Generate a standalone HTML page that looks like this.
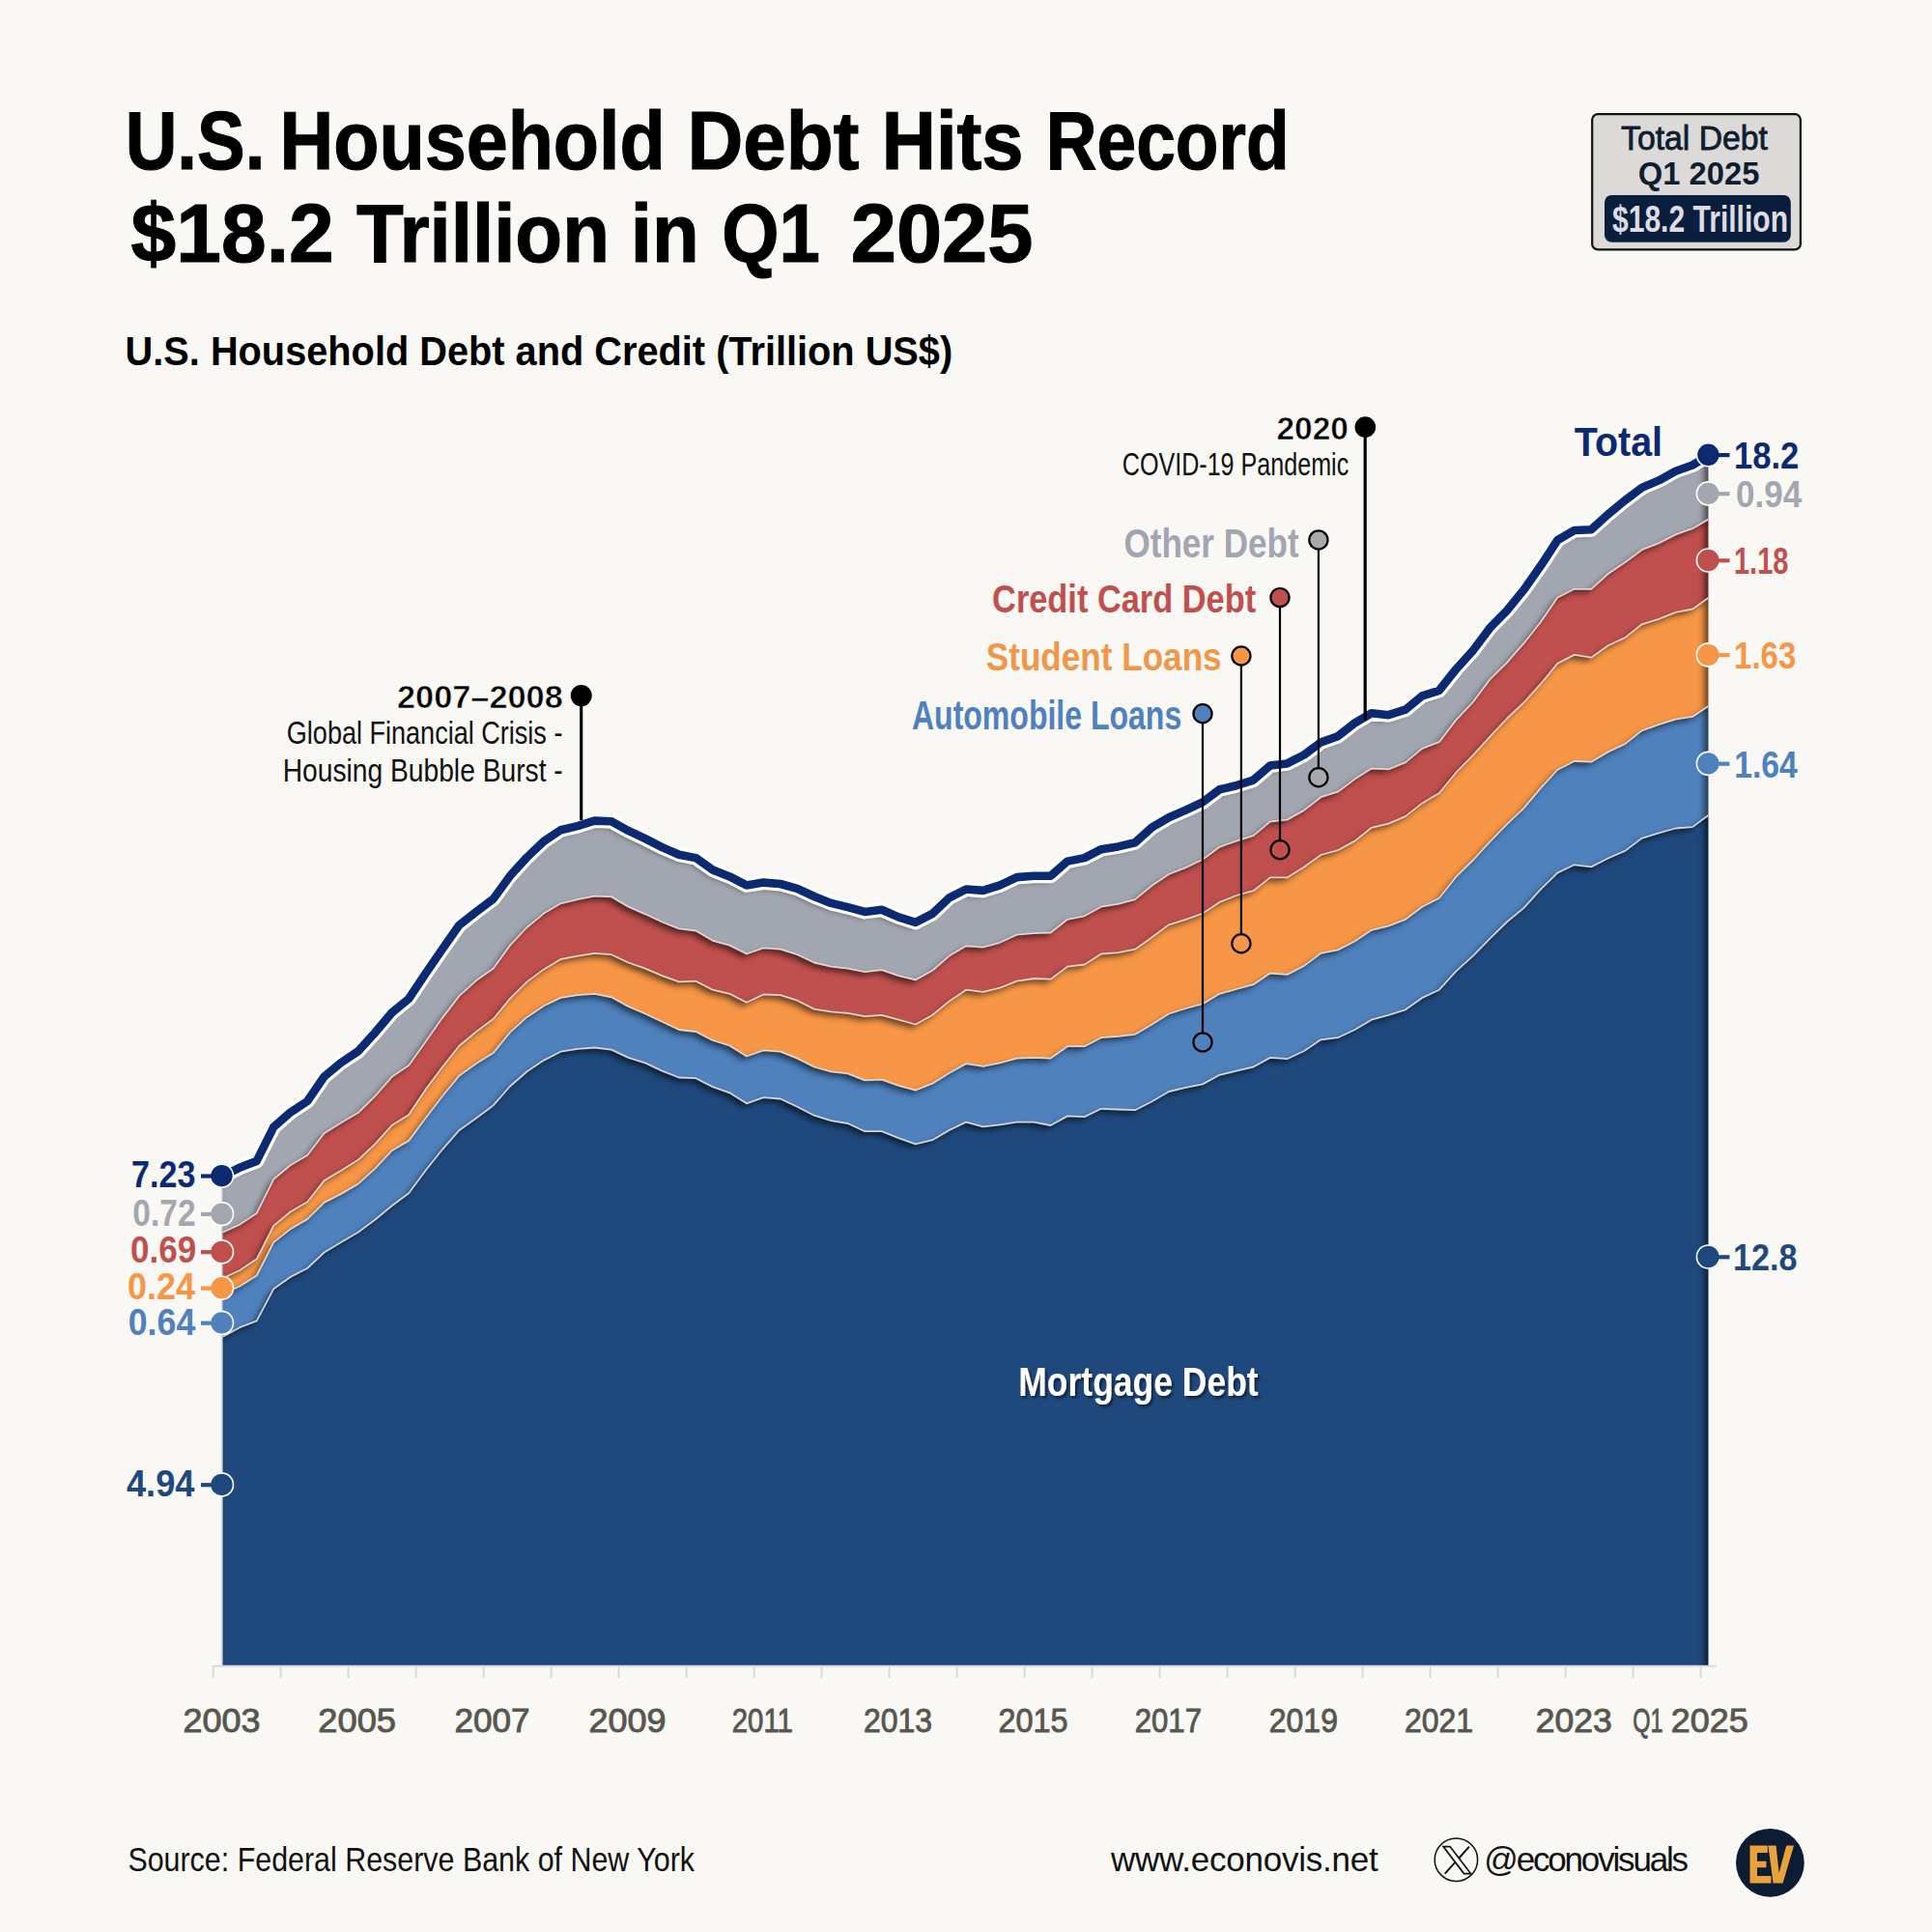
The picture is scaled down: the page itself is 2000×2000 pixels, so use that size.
<!DOCTYPE html><html><head><meta charset="utf-8"><title>U.S. Household Debt</title>
<style>html,body{margin:0;padding:0;background:#f9f8f4}svg{display:block}text{font-family:"Liberation Sans",sans-serif}</style></head><body>
<svg width="2000" height="2000" viewBox="0 0 2000 2000">
<defs><filter id="sh" filterUnits="userSpaceOnUse" x="150" y="380" width="1700" height="1420" color-interpolation-filters="sRGB"><feComponentTransfer in="SourceAlpha" result="inv"><feFuncA type="table" tableValues="1 0"/></feComponentTransfer><feOffset in="inv" dx="-4.5" dy="4.0" result="off"/><feGaussianBlur in="off" stdDeviation="3" result="blur"/><feComposite in="blur" in2="SourceAlpha" operator="in" result="shadow"/><feFlood flood-color="#000" flood-opacity="0.58" result="fl"/><feComposite in="fl" in2="shadow" operator="in" result="cs"/><feMerge><feMergeNode in="SourceGraphic"/><feMergeNode in="cs"/></feMerge></filter>
<filter id="tsh" x="-10%" y="-30%" width="120%" height="160%"><feDropShadow dx="2" dy="2.5" stdDeviation="1.5" flood-color="#000" flood-opacity="0.55"/></filter></defs>
<clipPath id="cl"><rect x="229.6" y="300" width="1700" height="1424.6"/></clipPath>
<rect width="2000" height="2000" fill="#f9f8f4"/>
<text x="129.64" y="175.2" font-size="84.36" font-weight="bold" fill="#000" textLength="144.72" lengthAdjust="spacingAndGlyphs" stroke="#000" stroke-width="1.1">U.S.</text>
<text x="289.47" y="175.2" font-size="84.36" font-weight="bold" fill="#000" textLength="399.24" lengthAdjust="spacingAndGlyphs" stroke="#000" stroke-width="1.1">Household</text>
<text x="711.43" y="175.2" font-size="84.36" font-weight="bold" fill="#000" textLength="177.98" lengthAdjust="spacingAndGlyphs" stroke="#000" stroke-width="1.1">Debt</text>
<text x="912.81" y="175.2" font-size="84.36" font-weight="bold" fill="#000" textLength="146.74" lengthAdjust="spacingAndGlyphs" stroke="#000" stroke-width="1.1">Hits</text>
<text x="1082.76" y="175.2" font-size="84.36" font-weight="bold" fill="#000" textLength="251.89" lengthAdjust="spacingAndGlyphs" stroke="#000" stroke-width="1.1">Record</text>
<text x="135.58" y="271.4" font-size="84.36" font-weight="bold" fill="#000" textLength="210.08" lengthAdjust="spacingAndGlyphs" stroke="#000" stroke-width="1.1">$18.2</text>
<text x="369.10" y="271.4" font-size="84.36" font-weight="bold" fill="#000" textLength="261.88" lengthAdjust="spacingAndGlyphs" stroke="#000" stroke-width="1.1">Trillion</text>
<text x="652.73" y="271.4" font-size="84.36" font-weight="bold" fill="#000" textLength="70.96" lengthAdjust="spacingAndGlyphs" stroke="#000" stroke-width="1.1">in</text>
<text x="747.14" y="271.4" font-size="84.36" font-weight="bold" fill="#000" textLength="101.67" lengthAdjust="spacingAndGlyphs" stroke="#000" stroke-width="1.1">Q1</text>
<text x="880.76" y="271.4" font-size="84.36" font-weight="bold" fill="#000" textLength="188.68" lengthAdjust="spacingAndGlyphs" stroke="#000" stroke-width="1.1">2025</text>
<text x="129.59" y="377.8" font-size="43.02" font-weight="bold" fill="#000" textLength="856.62" lengthAdjust="spacingAndGlyphs" >U.S. Household Debt and Credit (Trillion US$)</text>
<rect x="1648.2" y="118.1" width="215.7" height="140.3" rx="6" fill="#dcdad9" stroke="#111" stroke-width="2.2"/>
<text x="1678.00" y="154.8" font-size="34.92" font-weight="normal" fill="#0f1e2e" textLength="152.00" lengthAdjust="spacingAndGlyphs" stroke="#0f1e2e" stroke-width="0.8">Total Debt</text>
<text x="1695.79" y="190.6" font-size="32.96" font-weight="bold" fill="#0f1e2e" textLength="125.63" lengthAdjust="spacingAndGlyphs" >Q1 2025</text>
<rect x="1661" y="201.9" width="192.8" height="48.8" rx="7.5" fill="#0b1d3d"/>
<text x="1668.98" y="239.9" font-size="38.41" font-weight="bold" fill="#dcdde3" textLength="182.05" lengthAdjust="spacingAndGlyphs" >$18.2 Trillion</text>
<g stroke="#d9dbd9" stroke-width="1.9" fill="none">
<path d="M220.6,1737 V1724.7 H1777"/>
<path d="M290.6,1724.7 V1737"/>
<path d="M360.6,1724.7 V1737"/>
<path d="M430.6,1724.7 V1737"/>
<path d="M500.6,1724.7 V1737"/>
<path d="M570.6,1724.7 V1737"/>
<path d="M640.6,1724.7 V1737"/>
<path d="M710.6,1724.7 V1737"/>
<path d="M780.6,1724.7 V1737"/>
<path d="M850.6,1724.7 V1737"/>
<path d="M920.6,1724.7 V1737"/>
<path d="M990.6,1724.7 V1737"/>
<path d="M1060.6,1724.7 V1737"/>
<path d="M1130.6,1724.7 V1737"/>
<path d="M1200.6,1724.7 V1737"/>
<path d="M1270.6,1724.7 V1737"/>
<path d="M1340.6,1724.7 V1737"/>
<path d="M1410.6,1724.7 V1737"/>
<path d="M1480.6,1724.7 V1737"/>
<path d="M1550.6,1724.7 V1737"/>
<path d="M1620.6,1724.7 V1737"/>
<path d="M1690.6,1724.7 V1737"/>
<path d="M1760.6,1724.7 V1737"/>
</g>
<path d="M230.2,1217.5 V1723.7" stroke="#c9cdd2" stroke-width="2"/>
<g clip-path="url(#cl)">
<g filter="url(#sh)"><path d="M230.7,1383.8 L248.2,1374.2 L265.7,1367.3 L283.2,1334.3 L300.6,1321.9 L318.1,1313.0 L335.6,1296.5 L353.1,1286.1 L370.6,1275.8 L388.1,1262.7 L405.6,1248.3 L423.1,1235.2 L440.5,1211.8 L458.0,1189.8 L475.5,1169.9 L493.0,1157.5 L510.5,1144.4 L528.0,1124.5 L545.5,1109.3 L563.0,1097.6 L580.4,1088.7 L597.9,1085.9 L615.4,1084.5 L632.9,1086.6 L650.4,1094.9 L667.9,1100.4 L685.4,1108.6 L702.9,1115.5 L720.3,1116.2 L737.8,1125.1 L755.3,1131.3 L772.8,1142.3 L790.3,1136.1 L807.8,1137.5 L825.3,1145.8 L842.8,1154.7 L860.2,1160.2 L877.7,1163.0 L895.2,1171.2 L912.7,1171.2 L930.2,1178.1 L947.7,1184.3 L965.2,1180.2 L982.7,1169.9 L1000.1,1161.6 L1017.6,1166.4 L1035.1,1164.4 L1052.6,1161.6 L1070.1,1161.6 L1087.6,1165.0 L1105.1,1155.4 L1122.6,1156.1 L1140.0,1147.8 L1157.5,1148.5 L1175.0,1149.2 L1192.5,1140.3 L1210.0,1130.0 L1227.5,1125.8 L1245.0,1122.4 L1262.5,1112.8 L1279.9,1108.6 L1297.4,1104.5 L1314.9,1094.9 L1332.4,1096.2 L1349.9,1088.0 L1367.4,1076.3 L1384.9,1074.2 L1402.4,1066.0 L1419.8,1055.7 L1437.3,1050.8 L1454.8,1045.3 L1472.3,1032.9 L1489.8,1024.7 L1507.3,1005.4 L1524.8,989.6 L1542.3,971.7 L1559.8,954.5 L1577.2,940.1 L1594.7,920.8 L1612.2,903.6 L1629.7,895.3 L1647.2,897.4 L1664.7,888.5 L1682.2,880.9 L1699.6,867.8 L1717.1,862.3 L1734.6,857.5 L1752.1,856.1 L1768.4,844.0 L1768.4,1723.7 L230.7,1723.7Z" fill="#1f497d"/></g>
<g filter="url(#sh)"><path d="M230.7,1339.8 L248.2,1331.5 L265.7,1320.5 L283.2,1286.1 L300.6,1272.4 L318.1,1262.1 L335.6,1244.9 L353.1,1235.9 L370.6,1225.6 L388.1,1209.8 L405.6,1191.2 L423.1,1180.9 L440.5,1157.5 L458.0,1134.8 L475.5,1113.4 L493.0,1101.1 L510.5,1090.1 L528.0,1068.7 L545.5,1052.9 L563.0,1041.2 L580.4,1032.9 L597.9,1030.2 L615.4,1028.8 L632.9,1032.3 L650.4,1041.9 L667.9,1049.5 L685.4,1057.7 L702.9,1066.0 L720.3,1068.0 L737.8,1077.0 L755.3,1082.5 L772.8,1093.5 L790.3,1087.3 L807.8,1088.7 L825.3,1095.6 L842.8,1104.5 L860.2,1109.3 L877.7,1111.4 L895.2,1118.3 L912.7,1117.6 L930.2,1123.8 L947.7,1128.6 L965.2,1121.7 L982.7,1110.7 L1000.1,1101.1 L1017.6,1103.8 L1035.1,1100.4 L1052.6,1095.6 L1070.1,1094.9 L1087.6,1095.6 L1105.1,1083.2 L1122.6,1083.2 L1140.0,1074.2 L1157.5,1072.9 L1175.0,1070.8 L1192.5,1060.5 L1210.0,1049.5 L1227.5,1044.0 L1245.0,1039.1 L1262.5,1028.8 L1279.9,1024.0 L1297.4,1019.2 L1314.9,1007.5 L1332.4,1008.9 L1349.9,999.9 L1367.4,986.9 L1384.9,983.4 L1402.4,974.5 L1419.8,962.8 L1437.3,958.6 L1454.8,951.8 L1472.3,938.7 L1489.8,929.7 L1507.3,907.7 L1524.8,890.5 L1542.3,871.3 L1559.8,853.4 L1577.2,836.9 L1594.7,816.2 L1612.2,797.0 L1629.7,788.0 L1647.2,788.7 L1664.7,778.4 L1682.2,770.1 L1699.6,756.4 L1717.1,750.2 L1734.6,744.7 L1752.1,741.9 L1768.4,731.0 L1768.4,844.0 L1752.1,856.1 L1734.6,857.5 L1717.1,862.3 L1699.6,867.8 L1682.2,880.9 L1664.7,888.5 L1647.2,897.4 L1629.7,895.3 L1612.2,903.6 L1594.7,920.8 L1577.2,940.1 L1559.8,954.5 L1542.3,971.7 L1524.8,989.6 L1507.3,1005.4 L1489.8,1024.7 L1472.3,1032.9 L1454.8,1045.3 L1437.3,1050.8 L1419.8,1055.7 L1402.4,1066.0 L1384.9,1074.2 L1367.4,1076.3 L1349.9,1088.0 L1332.4,1096.2 L1314.9,1094.9 L1297.4,1104.5 L1279.9,1108.6 L1262.5,1112.8 L1245.0,1122.4 L1227.5,1125.8 L1210.0,1130.0 L1192.5,1140.3 L1175.0,1149.2 L1157.5,1148.5 L1140.0,1147.8 L1122.6,1156.1 L1105.1,1155.4 L1087.6,1165.0 L1070.1,1161.6 L1052.6,1161.6 L1035.1,1164.4 L1017.6,1166.4 L1000.1,1161.6 L982.7,1169.9 L965.2,1180.2 L947.7,1184.3 L930.2,1178.1 L912.7,1171.2 L895.2,1171.2 L877.7,1163.0 L860.2,1160.2 L842.8,1154.7 L825.3,1145.8 L807.8,1137.5 L790.3,1136.1 L772.8,1142.3 L755.3,1131.3 L737.8,1125.1 L720.3,1116.2 L702.9,1115.5 L685.4,1108.6 L667.9,1100.4 L650.4,1094.9 L632.9,1086.6 L615.4,1084.5 L597.9,1085.9 L580.4,1088.7 L563.0,1097.6 L545.5,1109.3 L528.0,1124.5 L510.5,1144.4 L493.0,1157.5 L475.5,1169.9 L458.0,1189.8 L440.5,1211.8 L423.1,1235.2 L405.6,1248.3 L388.1,1262.7 L370.6,1275.8 L353.1,1286.1 L335.6,1296.5 L318.1,1313.0 L300.6,1321.9 L283.2,1334.3 L265.7,1367.3 L248.2,1374.2 L230.7,1383.8Z" fill="#4f81bd"/></g>
<g filter="url(#sh)"><path d="M230.7,1323.3 L248.2,1315.0 L265.7,1303.3 L283.2,1268.9 L300.6,1254.5 L318.1,1244.2 L335.6,1222.1 L353.1,1211.8 L370.6,1200.8 L388.1,1184.3 L405.6,1165.0 L423.1,1154.0 L440.5,1127.9 L458.0,1104.5 L475.5,1082.5 L493.0,1068.0 L510.5,1055.0 L528.0,1033.6 L545.5,1016.4 L563.0,1003.4 L580.4,993.0 L597.9,989.6 L615.4,986.9 L632.9,988.2 L650.4,996.5 L667.9,1002.7 L685.4,1010.2 L702.9,1016.4 L720.3,1015.7 L737.8,1024.7 L755.3,1028.8 L772.8,1037.8 L790.3,1029.5 L807.8,1030.2 L825.3,1035.7 L842.8,1044.6 L860.2,1047.4 L877.7,1048.8 L895.2,1052.2 L912.7,1050.8 L930.2,1055.7 L947.7,1060.5 L965.2,1050.8 L982.7,1036.4 L1000.1,1024.7 L1017.6,1026.8 L1035.1,1022.6 L1052.6,1015.7 L1070.1,1013.0 L1087.6,1013.7 L1105.1,1000.6 L1122.6,998.5 L1140.0,987.5 L1157.5,986.2 L1175.0,982.7 L1192.5,970.3 L1210.0,957.3 L1227.5,951.8 L1245.0,945.6 L1262.5,933.9 L1279.9,927.0 L1297.4,922.2 L1314.9,908.4 L1332.4,908.4 L1349.9,897.4 L1367.4,885.0 L1384.9,880.2 L1402.4,870.6 L1419.8,856.8 L1437.3,852.7 L1454.8,845.1 L1472.3,831.4 L1489.8,821.0 L1507.3,799.7 L1524.8,781.8 L1542.3,762.6 L1559.8,744.0 L1577.2,727.5 L1594.7,708.2 L1612.2,686.9 L1629.7,677.9 L1647.2,680.7 L1664.7,668.3 L1682.2,660.1 L1699.6,646.3 L1717.1,640.8 L1734.6,633.9 L1752.1,630.5 L1768.4,618.9 L1768.4,731.0 L1752.1,741.9 L1734.6,744.7 L1717.1,750.2 L1699.6,756.4 L1682.2,770.1 L1664.7,778.4 L1647.2,788.7 L1629.7,788.0 L1612.2,797.0 L1594.7,816.2 L1577.2,836.9 L1559.8,853.4 L1542.3,871.3 L1524.8,890.5 L1507.3,907.7 L1489.8,929.7 L1472.3,938.7 L1454.8,951.8 L1437.3,958.6 L1419.8,962.8 L1402.4,974.5 L1384.9,983.4 L1367.4,986.9 L1349.9,999.9 L1332.4,1008.9 L1314.9,1007.5 L1297.4,1019.2 L1279.9,1024.0 L1262.5,1028.8 L1245.0,1039.1 L1227.5,1044.0 L1210.0,1049.5 L1192.5,1060.5 L1175.0,1070.8 L1157.5,1072.9 L1140.0,1074.2 L1122.6,1083.2 L1105.1,1083.2 L1087.6,1095.6 L1070.1,1094.9 L1052.6,1095.6 L1035.1,1100.4 L1017.6,1103.8 L1000.1,1101.1 L982.7,1110.7 L965.2,1121.7 L947.7,1128.6 L930.2,1123.8 L912.7,1117.6 L895.2,1118.3 L877.7,1111.4 L860.2,1109.3 L842.8,1104.5 L825.3,1095.6 L807.8,1088.7 L790.3,1087.3 L772.8,1093.5 L755.3,1082.5 L737.8,1077.0 L720.3,1068.0 L702.9,1066.0 L685.4,1057.7 L667.9,1049.5 L650.4,1041.9 L632.9,1032.3 L615.4,1028.8 L597.9,1030.2 L580.4,1032.9 L563.0,1041.2 L545.5,1052.9 L528.0,1068.7 L510.5,1090.1 L493.0,1101.1 L475.5,1113.4 L458.0,1134.8 L440.5,1157.5 L423.1,1180.9 L405.6,1191.2 L388.1,1209.8 L370.6,1225.6 L353.1,1235.9 L335.6,1244.9 L318.1,1262.1 L300.6,1272.4 L283.2,1286.1 L265.7,1320.5 L248.2,1331.5 L230.7,1339.8Z" fill="#f79646"/></g>
<g filter="url(#sh)"><path d="M230.7,1275.8 L248.2,1267.6 L265.7,1255.9 L283.2,1220.8 L300.6,1206.3 L318.1,1196.0 L335.6,1173.3 L353.1,1162.3 L370.6,1152.0 L388.1,1134.8 L405.6,1114.8 L423.1,1103.1 L440.5,1078.4 L458.0,1053.6 L475.5,1030.9 L493.0,1015.1 L510.5,1002.7 L528.0,978.6 L545.5,960.0 L563.0,945.6 L580.4,935.3 L597.9,931.1 L615.4,927.7 L632.9,928.4 L650.4,938.7 L667.9,946.3 L685.4,954.5 L702.9,961.4 L720.3,963.5 L737.8,973.8 L755.3,978.6 L772.8,987.5 L790.3,981.3 L807.8,982.7 L825.3,988.2 L842.8,996.5 L860.2,1000.6 L877.7,1002.7 L895.2,1006.1 L912.7,1004.1 L930.2,1010.2 L947.7,1014.4 L965.2,1004.7 L982.7,989.6 L1000.1,979.3 L1017.6,980.7 L1035.1,975.8 L1052.6,967.6 L1070.1,966.2 L1087.6,965.5 L1105.1,951.8 L1122.6,948.3 L1140.0,938.7 L1157.5,935.9 L1175.0,931.1 L1192.5,916.7 L1210.0,905.0 L1227.5,898.1 L1245.0,889.8 L1262.5,876.8 L1279.9,870.6 L1297.4,865.1 L1314.9,850.6 L1332.4,848.6 L1349.9,838.9 L1367.4,825.2 L1384.9,819.7 L1402.4,806.6 L1419.8,795.6 L1437.3,796.3 L1454.8,789.4 L1472.3,774.9 L1489.8,768.1 L1507.3,745.4 L1524.8,726.8 L1542.3,703.4 L1559.8,686.2 L1577.2,666.2 L1594.7,644.2 L1612.2,618.8 L1629.7,609.8 L1647.2,609.8 L1664.7,594.0 L1682.2,582.3 L1699.6,569.2 L1717.1,562.4 L1734.6,553.4 L1752.1,547.2 L1768.4,537.6 L1768.4,618.9 L1752.1,630.5 L1734.6,633.9 L1717.1,640.8 L1699.6,646.3 L1682.2,660.1 L1664.7,668.3 L1647.2,680.7 L1629.7,677.9 L1612.2,686.9 L1594.7,708.2 L1577.2,727.5 L1559.8,744.0 L1542.3,762.6 L1524.8,781.8 L1507.3,799.7 L1489.8,821.0 L1472.3,831.4 L1454.8,845.1 L1437.3,852.7 L1419.8,856.8 L1402.4,870.6 L1384.9,880.2 L1367.4,885.0 L1349.9,897.4 L1332.4,908.4 L1314.9,908.4 L1297.4,922.2 L1279.9,927.0 L1262.5,933.9 L1245.0,945.6 L1227.5,951.8 L1210.0,957.3 L1192.5,970.3 L1175.0,982.7 L1157.5,986.2 L1140.0,987.5 L1122.6,998.5 L1105.1,1000.6 L1087.6,1013.7 L1070.1,1013.0 L1052.6,1015.7 L1035.1,1022.6 L1017.6,1026.8 L1000.1,1024.7 L982.7,1036.4 L965.2,1050.8 L947.7,1060.5 L930.2,1055.7 L912.7,1050.8 L895.2,1052.2 L877.7,1048.8 L860.2,1047.4 L842.8,1044.6 L825.3,1035.7 L807.8,1030.2 L790.3,1029.5 L772.8,1037.8 L755.3,1028.8 L737.8,1024.7 L720.3,1015.7 L702.9,1016.4 L685.4,1010.2 L667.9,1002.7 L650.4,996.5 L632.9,988.2 L615.4,986.9 L597.9,989.6 L580.4,993.0 L563.0,1003.4 L545.5,1016.4 L528.0,1033.6 L510.5,1055.0 L493.0,1068.0 L475.5,1082.5 L458.0,1104.5 L440.5,1127.9 L423.1,1154.0 L405.6,1165.0 L388.1,1184.3 L370.6,1200.8 L353.1,1211.8 L335.6,1222.1 L318.1,1244.2 L300.6,1254.5 L283.2,1268.9 L265.7,1303.3 L248.2,1315.0 L230.7,1323.3Z" fill="#c0504d"/></g>
<g filter="url(#sh)"><path d="M230.7,1217.5 L248.2,1209.5 L265.7,1203.6 L283.2,1168.5 L300.6,1153.3 L318.1,1141.7 L335.6,1116.2 L353.1,1101.7 L370.6,1090.1 L388.1,1070.8 L405.6,1050.1 L423.1,1035.7 L440.5,1009.6 L458.0,984.1 L475.5,959.3 L493.0,945.6 L510.5,932.5 L528.0,908.4 L545.5,889.2 L563.0,872.6 L580.4,860.9 L597.9,856.8 L615.4,851.3 L632.9,852.0 L650.4,861.6 L667.9,869.9 L685.4,878.8 L702.9,886.4 L720.3,889.8 L737.8,902.2 L755.3,909.1 L772.8,918.1 L790.3,915.3 L807.8,916.7 L825.3,921.5 L842.8,929.7 L860.2,936.6 L877.7,940.8 L895.2,945.6 L912.7,943.5 L930.2,951.1 L947.7,956.6 L965.2,947.6 L982.7,931.1 L1000.1,922.2 L1017.6,923.6 L1035.1,918.1 L1052.6,909.8 L1070.1,908.4 L1087.6,908.4 L1105.1,893.3 L1122.6,889.8 L1140.0,880.9 L1157.5,878.1 L1175.0,874.0 L1192.5,858.2 L1210.0,847.9 L1227.5,840.3 L1245.0,832.1 L1262.5,819.0 L1279.9,814.9 L1297.4,809.3 L1314.9,794.2 L1332.4,792.1 L1349.9,783.2 L1367.4,770.1 L1384.9,763.9 L1402.4,750.2 L1419.8,739.9 L1437.3,741.9 L1454.8,736.4 L1472.3,722.0 L1489.8,716.5 L1507.3,694.5 L1524.8,675.2 L1542.3,651.8 L1559.8,633.9 L1577.2,612.6 L1594.7,587.8 L1612.2,561.0 L1629.7,550.7 L1647.2,550.0 L1664.7,534.1 L1682.2,519.7 L1699.6,506.6 L1717.1,499.1 L1734.6,489.4 L1752.1,482.5 L1768.4,472.3 L1768.4,537.6 L1752.1,547.2 L1734.6,553.4 L1717.1,562.4 L1699.6,569.2 L1682.2,582.3 L1664.7,594.0 L1647.2,609.8 L1629.7,609.8 L1612.2,618.8 L1594.7,644.2 L1577.2,666.2 L1559.8,686.2 L1542.3,703.4 L1524.8,726.8 L1507.3,745.4 L1489.8,768.1 L1472.3,774.9 L1454.8,789.4 L1437.3,796.3 L1419.8,795.6 L1402.4,806.6 L1384.9,819.7 L1367.4,825.2 L1349.9,838.9 L1332.4,848.6 L1314.9,850.6 L1297.4,865.1 L1279.9,870.6 L1262.5,876.8 L1245.0,889.8 L1227.5,898.1 L1210.0,905.0 L1192.5,916.7 L1175.0,931.1 L1157.5,935.9 L1140.0,938.7 L1122.6,948.3 L1105.1,951.8 L1087.6,965.5 L1070.1,966.2 L1052.6,967.6 L1035.1,975.8 L1017.6,980.7 L1000.1,979.3 L982.7,989.6 L965.2,1004.7 L947.7,1014.4 L930.2,1010.2 L912.7,1004.1 L895.2,1006.1 L877.7,1002.7 L860.2,1000.6 L842.8,996.5 L825.3,988.2 L807.8,982.7 L790.3,981.3 L772.8,987.5 L755.3,978.6 L737.8,973.8 L720.3,963.5 L702.9,961.4 L685.4,954.5 L667.9,946.3 L650.4,938.7 L632.9,928.4 L615.4,927.7 L597.9,931.1 L580.4,935.3 L563.0,945.6 L545.5,960.0 L528.0,978.6 L510.5,1002.7 L493.0,1015.1 L475.5,1030.9 L458.0,1053.6 L440.5,1078.4 L423.1,1103.1 L405.6,1114.8 L388.1,1134.8 L370.6,1152.0 L353.1,1162.3 L335.6,1173.3 L318.1,1196.0 L300.6,1206.3 L283.2,1220.8 L265.7,1255.9 L248.2,1267.6 L230.7,1275.8Z" fill="#a2a6b0"/></g>
</g>
<path d="M230.7,1383.8 L248.2,1374.2 L265.7,1367.3 L283.2,1334.3 L300.6,1321.9 L318.1,1313.0 L335.6,1296.5 L353.1,1286.1 L370.6,1275.8 L388.1,1262.7 L405.6,1248.3 L423.1,1235.2 L440.5,1211.8 L458.0,1189.8 L475.5,1169.9 L493.0,1157.5 L510.5,1144.4 L528.0,1124.5 L545.5,1109.3 L563.0,1097.6 L580.4,1088.7 L597.9,1085.9 L615.4,1084.5 L632.9,1086.6 L650.4,1094.9 L667.9,1100.4 L685.4,1108.6 L702.9,1115.5 L720.3,1116.2 L737.8,1125.1 L755.3,1131.3 L772.8,1142.3 L790.3,1136.1 L807.8,1137.5 L825.3,1145.8 L842.8,1154.7 L860.2,1160.2 L877.7,1163.0 L895.2,1171.2 L912.7,1171.2 L930.2,1178.1 L947.7,1184.3 L965.2,1180.2 L982.7,1169.9 L1000.1,1161.6 L1017.6,1166.4 L1035.1,1164.4 L1052.6,1161.6 L1070.1,1161.6 L1087.6,1165.0 L1105.1,1155.4 L1122.6,1156.1 L1140.0,1147.8 L1157.5,1148.5 L1175.0,1149.2 L1192.5,1140.3 L1210.0,1130.0 L1227.5,1125.8 L1245.0,1122.4 L1262.5,1112.8 L1279.9,1108.6 L1297.4,1104.5 L1314.9,1094.9 L1332.4,1096.2 L1349.9,1088.0 L1367.4,1076.3 L1384.9,1074.2 L1402.4,1066.0 L1419.8,1055.7 L1437.3,1050.8 L1454.8,1045.3 L1472.3,1032.9 L1489.8,1024.7 L1507.3,1005.4 L1524.8,989.6 L1542.3,971.7 L1559.8,954.5 L1577.2,940.1 L1594.7,920.8 L1612.2,903.6 L1629.7,895.3 L1647.2,897.4 L1664.7,888.5 L1682.2,880.9 L1699.6,867.8 L1717.1,862.3 L1734.6,857.5 L1752.1,856.1 L1768.4,844.0" fill="none" stroke="#e8e0dc" stroke-opacity="0.9" stroke-width="1.8" stroke-linejoin="round"/>
<path d="M230.7,1339.8 L248.2,1331.5 L265.7,1320.5 L283.2,1286.1 L300.6,1272.4 L318.1,1262.1 L335.6,1244.9 L353.1,1235.9 L370.6,1225.6 L388.1,1209.8 L405.6,1191.2 L423.1,1180.9 L440.5,1157.5 L458.0,1134.8 L475.5,1113.4 L493.0,1101.1 L510.5,1090.1 L528.0,1068.7 L545.5,1052.9 L563.0,1041.2 L580.4,1032.9 L597.9,1030.2 L615.4,1028.8 L632.9,1032.3 L650.4,1041.9 L667.9,1049.5 L685.4,1057.7 L702.9,1066.0 L720.3,1068.0 L737.8,1077.0 L755.3,1082.5 L772.8,1093.5 L790.3,1087.3 L807.8,1088.7 L825.3,1095.6 L842.8,1104.5 L860.2,1109.3 L877.7,1111.4 L895.2,1118.3 L912.7,1117.6 L930.2,1123.8 L947.7,1128.6 L965.2,1121.7 L982.7,1110.7 L1000.1,1101.1 L1017.6,1103.8 L1035.1,1100.4 L1052.6,1095.6 L1070.1,1094.9 L1087.6,1095.6 L1105.1,1083.2 L1122.6,1083.2 L1140.0,1074.2 L1157.5,1072.9 L1175.0,1070.8 L1192.5,1060.5 L1210.0,1049.5 L1227.5,1044.0 L1245.0,1039.1 L1262.5,1028.8 L1279.9,1024.0 L1297.4,1019.2 L1314.9,1007.5 L1332.4,1008.9 L1349.9,999.9 L1367.4,986.9 L1384.9,983.4 L1402.4,974.5 L1419.8,962.8 L1437.3,958.6 L1454.8,951.8 L1472.3,938.7 L1489.8,929.7 L1507.3,907.7 L1524.8,890.5 L1542.3,871.3 L1559.8,853.4 L1577.2,836.9 L1594.7,816.2 L1612.2,797.0 L1629.7,788.0 L1647.2,788.7 L1664.7,778.4 L1682.2,770.1 L1699.6,756.4 L1717.1,750.2 L1734.6,744.7 L1752.1,741.9 L1768.4,731.0" fill="none" stroke="#e8e0dc" stroke-opacity="0.9" stroke-width="1.8" stroke-linejoin="round"/>
<path d="M230.7,1323.3 L248.2,1315.0 L265.7,1303.3 L283.2,1268.9 L300.6,1254.5 L318.1,1244.2 L335.6,1222.1 L353.1,1211.8 L370.6,1200.8 L388.1,1184.3 L405.6,1165.0 L423.1,1154.0 L440.5,1127.9 L458.0,1104.5 L475.5,1082.5 L493.0,1068.0 L510.5,1055.0 L528.0,1033.6 L545.5,1016.4 L563.0,1003.4 L580.4,993.0 L597.9,989.6 L615.4,986.9 L632.9,988.2 L650.4,996.5 L667.9,1002.7 L685.4,1010.2 L702.9,1016.4 L720.3,1015.7 L737.8,1024.7 L755.3,1028.8 L772.8,1037.8 L790.3,1029.5 L807.8,1030.2 L825.3,1035.7 L842.8,1044.6 L860.2,1047.4 L877.7,1048.8 L895.2,1052.2 L912.7,1050.8 L930.2,1055.7 L947.7,1060.5 L965.2,1050.8 L982.7,1036.4 L1000.1,1024.7 L1017.6,1026.8 L1035.1,1022.6 L1052.6,1015.7 L1070.1,1013.0 L1087.6,1013.7 L1105.1,1000.6 L1122.6,998.5 L1140.0,987.5 L1157.5,986.2 L1175.0,982.7 L1192.5,970.3 L1210.0,957.3 L1227.5,951.8 L1245.0,945.6 L1262.5,933.9 L1279.9,927.0 L1297.4,922.2 L1314.9,908.4 L1332.4,908.4 L1349.9,897.4 L1367.4,885.0 L1384.9,880.2 L1402.4,870.6 L1419.8,856.8 L1437.3,852.7 L1454.8,845.1 L1472.3,831.4 L1489.8,821.0 L1507.3,799.7 L1524.8,781.8 L1542.3,762.6 L1559.8,744.0 L1577.2,727.5 L1594.7,708.2 L1612.2,686.9 L1629.7,677.9 L1647.2,680.7 L1664.7,668.3 L1682.2,660.1 L1699.6,646.3 L1717.1,640.8 L1734.6,633.9 L1752.1,630.5 L1768.4,618.9" fill="none" stroke="#e8e0dc" stroke-opacity="0.9" stroke-width="1.8" stroke-linejoin="round"/>
<path d="M230.7,1275.8 L248.2,1267.6 L265.7,1255.9 L283.2,1220.8 L300.6,1206.3 L318.1,1196.0 L335.6,1173.3 L353.1,1162.3 L370.6,1152.0 L388.1,1134.8 L405.6,1114.8 L423.1,1103.1 L440.5,1078.4 L458.0,1053.6 L475.5,1030.9 L493.0,1015.1 L510.5,1002.7 L528.0,978.6 L545.5,960.0 L563.0,945.6 L580.4,935.3 L597.9,931.1 L615.4,927.7 L632.9,928.4 L650.4,938.7 L667.9,946.3 L685.4,954.5 L702.9,961.4 L720.3,963.5 L737.8,973.8 L755.3,978.6 L772.8,987.5 L790.3,981.3 L807.8,982.7 L825.3,988.2 L842.8,996.5 L860.2,1000.6 L877.7,1002.7 L895.2,1006.1 L912.7,1004.1 L930.2,1010.2 L947.7,1014.4 L965.2,1004.7 L982.7,989.6 L1000.1,979.3 L1017.6,980.7 L1035.1,975.8 L1052.6,967.6 L1070.1,966.2 L1087.6,965.5 L1105.1,951.8 L1122.6,948.3 L1140.0,938.7 L1157.5,935.9 L1175.0,931.1 L1192.5,916.7 L1210.0,905.0 L1227.5,898.1 L1245.0,889.8 L1262.5,876.8 L1279.9,870.6 L1297.4,865.1 L1314.9,850.6 L1332.4,848.6 L1349.9,838.9 L1367.4,825.2 L1384.9,819.7 L1402.4,806.6 L1419.8,795.6 L1437.3,796.3 L1454.8,789.4 L1472.3,774.9 L1489.8,768.1 L1507.3,745.4 L1524.8,726.8 L1542.3,703.4 L1559.8,686.2 L1577.2,666.2 L1594.7,644.2 L1612.2,618.8 L1629.7,609.8 L1647.2,609.8 L1664.7,594.0 L1682.2,582.3 L1699.6,569.2 L1717.1,562.4 L1734.6,553.4 L1752.1,547.2 L1768.4,537.6" fill="none" stroke="#e8e0dc" stroke-opacity="0.9" stroke-width="1.8" stroke-linejoin="round"/>
<path d="M230.7,1217.5 L248.2,1208.7 L265.7,1201.9 L283.2,1166.8 L300.6,1151.6 L318.1,1140.0 L335.6,1114.5 L353.1,1100.0 L370.6,1088.4 L388.1,1069.1 L405.6,1048.4 L423.1,1034.0 L440.5,1007.9 L458.0,982.4 L475.5,957.6 L493.0,943.9 L510.5,930.8 L528.0,906.7 L545.5,887.5 L563.0,870.9 L580.4,859.2 L597.9,855.1 L615.4,849.6 L632.9,850.3 L650.4,859.9 L667.9,868.2 L685.4,877.1 L702.9,884.7 L720.3,888.1 L737.8,900.5 L755.3,907.4 L772.8,916.4 L790.3,913.6 L807.8,915.0 L825.3,919.8 L842.8,928.0 L860.2,934.9 L877.7,939.1 L895.2,943.9 L912.7,941.8 L930.2,949.4 L947.7,954.9 L965.2,945.9 L982.7,929.4 L1000.1,920.5 L1017.6,921.9 L1035.1,916.4 L1052.6,908.1 L1070.1,906.7 L1087.6,906.7 L1105.1,891.6 L1122.6,888.1 L1140.0,879.2 L1157.5,876.4 L1175.0,872.3 L1192.5,856.5 L1210.0,846.2 L1227.5,838.6 L1245.0,830.4 L1262.5,817.3 L1279.9,813.2 L1297.4,807.6 L1314.9,792.5 L1332.4,790.4 L1349.9,781.5 L1367.4,768.4 L1384.9,762.2 L1402.4,748.5 L1419.8,738.2 L1437.3,740.2 L1454.8,734.7 L1472.3,720.3 L1489.8,714.8 L1507.3,692.8 L1524.8,673.5 L1542.3,650.1 L1559.8,632.2 L1577.2,610.9 L1594.7,586.1 L1612.2,559.3 L1629.7,549.0 L1647.2,548.3 L1664.7,532.4 L1682.2,518.0 L1699.6,504.9 L1717.1,497.4 L1734.6,487.7 L1752.1,481.5 L1769.6,470.9" fill="none" stroke="#fff" stroke-width="15" stroke-linejoin="round" stroke-linecap="butt"/>
<path d="M230.7,1217.5 L248.2,1208.7 L265.7,1201.9 L283.2,1166.8 L300.6,1151.6 L318.1,1140.0 L335.6,1114.5 L353.1,1100.0 L370.6,1088.4 L388.1,1069.1 L405.6,1048.4 L423.1,1034.0 L440.5,1007.9 L458.0,982.4 L475.5,957.6 L493.0,943.9 L510.5,930.8 L528.0,906.7 L545.5,887.5 L563.0,870.9 L580.4,859.2 L597.9,855.1 L615.4,849.6 L632.9,850.3 L650.4,859.9 L667.9,868.2 L685.4,877.1 L702.9,884.7 L720.3,888.1 L737.8,900.5 L755.3,907.4 L772.8,916.4 L790.3,913.6 L807.8,915.0 L825.3,919.8 L842.8,928.0 L860.2,934.9 L877.7,939.1 L895.2,943.9 L912.7,941.8 L930.2,949.4 L947.7,954.9 L965.2,945.9 L982.7,929.4 L1000.1,920.5 L1017.6,921.9 L1035.1,916.4 L1052.6,908.1 L1070.1,906.7 L1087.6,906.7 L1105.1,891.6 L1122.6,888.1 L1140.0,879.2 L1157.5,876.4 L1175.0,872.3 L1192.5,856.5 L1210.0,846.2 L1227.5,838.6 L1245.0,830.4 L1262.5,817.3 L1279.9,813.2 L1297.4,807.6 L1314.9,792.5 L1332.4,790.4 L1349.9,781.5 L1367.4,768.4 L1384.9,762.2 L1402.4,748.5 L1419.8,738.2 L1437.3,740.2 L1454.8,734.7 L1472.3,720.3 L1489.8,714.8 L1507.3,692.8 L1524.8,673.5 L1542.3,650.1 L1559.8,632.2 L1577.2,610.9 L1594.7,586.1 L1612.2,559.3 L1629.7,549.0 L1647.2,548.3 L1664.7,532.4 L1682.2,518.0 L1699.6,504.9 L1717.1,497.4 L1734.6,487.7 L1752.1,481.5 L1769.6,470.9" fill="none" stroke="#0b2a72" stroke-width="8.6" stroke-linejoin="round" stroke-linecap="round"/>
<text x="189.57" y="1792.8" font-size="35.20" font-weight="normal" fill="#57564f" textLength="80.05" lengthAdjust="spacingAndGlyphs" stroke="#57564f" stroke-width="0.9">2003</text>
<text x="329.37" y="1792.8" font-size="35.20" font-weight="normal" fill="#57564f" textLength="80.67" lengthAdjust="spacingAndGlyphs" stroke="#57564f" stroke-width="0.9">2005</text>
<text x="470.57" y="1792.8" font-size="35.20" font-weight="normal" fill="#57564f" textLength="78.05" lengthAdjust="spacingAndGlyphs" stroke="#57564f" stroke-width="0.9">2007</text>
<text x="609.57" y="1792.8" font-size="35.20" font-weight="normal" fill="#57564f" textLength="80.05" lengthAdjust="spacingAndGlyphs" stroke="#57564f" stroke-width="0.9">2009</text>
<text x="757.82" y="1792.8" font-size="35.20" font-weight="normal" fill="#57564f" textLength="63.04" lengthAdjust="spacingAndGlyphs" stroke="#57564f" stroke-width="0.9">2011</text>
<text x="894.07" y="1792.8" font-size="35.20" font-weight="normal" fill="#57564f" textLength="71.06" lengthAdjust="spacingAndGlyphs" stroke="#57564f" stroke-width="0.9">2013</text>
<text x="1033.57" y="1792.8" font-size="35.20" font-weight="normal" fill="#57564f" textLength="72.06" lengthAdjust="spacingAndGlyphs" stroke="#57564f" stroke-width="0.9">2015</text>
<text x="1174.83" y="1792.8" font-size="35.20" font-weight="normal" fill="#57564f" textLength="69.07" lengthAdjust="spacingAndGlyphs" stroke="#57564f" stroke-width="0.9">2017</text>
<text x="1313.83" y="1792.8" font-size="35.20" font-weight="normal" fill="#57564f" textLength="71.07" lengthAdjust="spacingAndGlyphs" stroke="#57564f" stroke-width="0.9">2019</text>
<text x="1454.07" y="1792.8" font-size="35.20" font-weight="normal" fill="#57564f" textLength="71.06" lengthAdjust="spacingAndGlyphs" stroke="#57564f" stroke-width="0.9">2021</text>
<text x="1589.83" y="1792.8" font-size="35.20" font-weight="normal" fill="#57564f" textLength="79.06" lengthAdjust="spacingAndGlyphs" stroke="#57564f" stroke-width="0.9">2023</text>
<text x="1690.15" y="1792.8" font-size="35.20" font-weight="normal" fill="#57564f" textLength="31.29" lengthAdjust="spacingAndGlyphs" stroke="#57564f" stroke-width="0.9">Q1</text>
<text x="1729.87" y="1792.8" font-size="35.20" font-weight="normal" fill="#57564f" textLength="79.85" lengthAdjust="spacingAndGlyphs" stroke="#57564f" stroke-width="0.9">2025</text>
<path d="M601.7,720.0 V849.0" stroke="#000" stroke-width="3.1"/>
<circle cx="601.7" cy="720.1" r="11" fill="#000"/>
<text x="410.96" y="733.3" font-size="32.96" font-weight="bold" fill="#000" textLength="171.87" lengthAdjust="spacingAndGlyphs" stroke="#f9f8f4" stroke-width="0.6">2007–2008</text>
<text x="296.79" y="770.0" font-size="33.94" font-weight="normal" fill="#111" textLength="285.62" lengthAdjust="spacingAndGlyphs" >Global Financial Crisis -</text>
<text x="292.68" y="808.5" font-size="33.80" font-weight="normal" fill="#111" textLength="290.04" lengthAdjust="spacingAndGlyphs" >Housing Bubble Burst -</text>
<path d="M1413.2,442.0 V745.5" stroke="#000" stroke-width="3.2"/>
<circle cx="1413.3" cy="442.1" r="10.8" fill="#000"/>
<text x="1321.50" y="454.8" font-size="33.24" font-weight="bold" fill="#000" textLength="74.35" lengthAdjust="spacingAndGlyphs" stroke="#f9f8f4" stroke-width="0.6">2020</text>
<text x="1161.79" y="491.6" font-size="33.52" font-weight="normal" fill="#111" textLength="234.41" lengthAdjust="spacingAndGlyphs" >COVID-19 Pandemic</text>
<text x="1163.49" y="576.7" font-size="41.62" font-weight="bold" fill="#a3a6b0" textLength="181.21" lengthAdjust="spacingAndGlyphs" >Other Debt</text>
<path d="M1364.9,558.9 V804.8" stroke="#000" stroke-width="2.2"/>
<circle cx="1364.9" cy="558.9" r="9.6" fill="#a9a9a9" stroke="#000" stroke-width="2.2"/>
<circle cx="1364.9" cy="804.8" r="9.6" fill="#a9a9a9" stroke="#000" stroke-width="2.2"/>
<text x="1027.09" y="634.4" font-size="41.06" font-weight="bold" fill="#c0504d" textLength="273.01" lengthAdjust="spacingAndGlyphs" >Credit Card Debt</text>
<path d="M1325.0,618.6 V879.7" stroke="#000" stroke-width="2.2"/>
<circle cx="1325.0" cy="618.6" r="9.6" fill="#c0504d" stroke="#000" stroke-width="2.2"/>
<circle cx="1325.0" cy="879.7" r="9.6" fill="#c0504d" stroke="#000" stroke-width="2.2"/>
<text x="1020.79" y="693.5" font-size="41.06" font-weight="bold" fill="#f0974a" textLength="243.82" lengthAdjust="spacingAndGlyphs" >Student Loans</text>
<path d="M1284.9,679.0 V976.8" stroke="#000" stroke-width="2.2"/>
<circle cx="1284.9" cy="679.0" r="9.6" fill="#f79646" stroke="#000" stroke-width="2.2"/>
<circle cx="1284.9" cy="976.8" r="9.6" fill="#f79646" stroke="#000" stroke-width="2.2"/>
<text x="943.99" y="754.6" font-size="41.62" font-weight="bold" fill="#4f81bd" textLength="279.22" lengthAdjust="spacingAndGlyphs" >Automobile Loans</text>
<path d="M1245.0,738.8 V1078.9" stroke="#000" stroke-width="2.2"/>
<circle cx="1245.0" cy="738.8" r="9.6" fill="#4f81bd" stroke="#000" stroke-width="2.2"/>
<circle cx="1245.0" cy="1078.9" r="9.6" fill="#4f81bd" stroke="#000" stroke-width="2.2"/>
<text x="1054.28" y="1444.5" font-size="41.90" font-weight="bold" fill="#fff" textLength="248.43" lengthAdjust="spacingAndGlyphs" filter="url(#tsh)">Mortgage Debt</text>
<text x="136.07" y="1228.5" font-size="37.99" font-weight="bold" fill="#0b2a72" textLength="66.45" lengthAdjust="spacingAndGlyphs" >7.23</text>
<circle cx="229.5" cy="1217.2" r="12" fill="#0b2a72" stroke="#fff" stroke-width="1.6"/>
<path d="M208,1217.5 H220" stroke="#0b2a72" stroke-width="4.2"/>
<text x="137.37" y="1269.1" font-size="37.99" font-weight="bold" fill="#a5a7ae" textLength="65.28" lengthAdjust="spacingAndGlyphs" >0.72</text>
<circle cx="229.5" cy="1256.6" r="12" fill="#a5a7ae" stroke="#fff" stroke-width="1.6"/>
<path d="M208,1256.9 H220" stroke="#a5a7ae" stroke-width="4.2"/>
<text x="135.07" y="1307.0" font-size="37.99" font-weight="bold" fill="#c0504d" textLength="68.27" lengthAdjust="spacingAndGlyphs" >0.69</text>
<circle cx="229.5" cy="1295.9" r="12" fill="#c0504d" stroke="#fff" stroke-width="1.6"/>
<path d="M208,1296.2 H220" stroke="#c0504d" stroke-width="4.2"/>
<text x="132.09" y="1345.0" font-size="37.99" font-weight="bold" fill="#f79646" textLength="70.01" lengthAdjust="spacingAndGlyphs" >0.24</text>
<circle cx="229.5" cy="1333.3" r="12" fill="#f79646" stroke="#fff" stroke-width="1.6"/>
<path d="M208,1333.6 H220" stroke="#f79646" stroke-width="4.2"/>
<text x="132.68" y="1382.0" font-size="37.99" font-weight="bold" fill="#4f81bd" textLength="69.63" lengthAdjust="spacingAndGlyphs" >0.64</text>
<circle cx="229.5" cy="1369.4" r="12" fill="#4f81bd" stroke="#fff" stroke-width="1.6"/>
<path d="M208,1369.7 H220" stroke="#4f81bd" stroke-width="4.2"/>
<text x="130.88" y="1548.5" font-size="37.99" font-weight="bold" fill="#1f497d" textLength="70.63" lengthAdjust="spacingAndGlyphs" >4.94</text>
<circle cx="229.5" cy="1536.9" r="12" fill="#1f497d" stroke="#fff" stroke-width="1.6"/>
<path d="M208,1537.2 H220" stroke="#1f497d" stroke-width="4.2"/>
<text x="1629.80" y="471.7" font-size="41.62" font-weight="bold" fill="#0b2a72" textLength="91.28" lengthAdjust="spacingAndGlyphs" >Total</text>
<text x="1794.99" y="484.9" font-size="37.99" font-weight="bold" fill="#0b2a72" textLength="67.36" lengthAdjust="spacingAndGlyphs" >18.2</text>
<circle cx="1768.4" cy="470.8" r="12" fill="#0b2a72" stroke="#fff" stroke-width="1.6"/>
<path d="M1778,471.1 H1790.5" stroke="#0b2a72" stroke-width="4.2"/>
<text x="1796.99" y="524.9" font-size="37.99" font-weight="bold" fill="#a5a7ae" textLength="68.22" lengthAdjust="spacingAndGlyphs" >0.94</text>
<circle cx="1768.4" cy="510.9" r="12" fill="#a5a7ae" stroke="#fff" stroke-width="1.6"/>
<path d="M1778,511.2 H1790.5" stroke="#a5a7ae" stroke-width="4.2"/>
<text x="1794.98" y="593.6" font-size="37.99" font-weight="bold" fill="#c0504d" textLength="56.40" lengthAdjust="spacingAndGlyphs" >1.18</text>
<circle cx="1768.4" cy="580.0" r="12" fill="#c0504d" stroke="#fff" stroke-width="1.6"/>
<path d="M1778,580.3 H1790.5" stroke="#c0504d" stroke-width="4.2"/>
<text x="1795.08" y="691.6" font-size="37.99" font-weight="bold" fill="#f79646" textLength="64.22" lengthAdjust="spacingAndGlyphs" >1.63</text>
<circle cx="1768.4" cy="677.9" r="12" fill="#f79646" stroke="#fff" stroke-width="1.6"/>
<path d="M1778,678.2 H1790.5" stroke="#f79646" stroke-width="4.2"/>
<text x="1795.15" y="804.7" font-size="37.99" font-weight="bold" fill="#4f81bd" textLength="65.65" lengthAdjust="spacingAndGlyphs" >1.64</text>
<circle cx="1768.4" cy="790.4" r="12" fill="#4f81bd" stroke="#fff" stroke-width="1.6"/>
<path d="M1778,790.7 H1790.5" stroke="#4f81bd" stroke-width="4.2"/>
<text x="1794.01" y="1314.8" font-size="37.99" font-weight="bold" fill="#1f497d" textLength="66.52" lengthAdjust="spacingAndGlyphs" >12.8</text>
<circle cx="1768.4" cy="1301.0" r="12" fill="#1f497d" stroke="#fff" stroke-width="1.6"/>
<path d="M1778,1301.3 H1790.5" stroke="#1f497d" stroke-width="4.2"/>
<text x="132.39" y="1937.2" font-size="34.92" font-weight="normal" fill="#111" textLength="586.61" lengthAdjust="spacingAndGlyphs" >Source: Federal Reserve Bank of New York</text>
<text x="1150.00" y="1936.8" font-size="35.00" font-weight="normal" fill="#111" textLength="276.80" lengthAdjust="spacing" >www.econovis.net</text>
<text x="1536.30" y="1936.8" font-size="35.00" font-weight="normal" fill="#111" textLength="211.80" lengthAdjust="spacing" >@econovisuals</text>
<circle cx="1507.4" cy="1925.2" r="22.2" fill="none" stroke="#111" stroke-width="1.5"/>
<g transform="translate(1508.3,1925.6)"><path d="M-14.2,-14 L-7.2,-14 L14.2,14 L7.2,14 Z" fill="none" stroke="#111" stroke-width="1.7" stroke-linejoin="miter"/><path d="M12.6,-14 L1.6,-1.6 M-2.4,2.8 L-12.6,14" stroke="#111" stroke-width="1.9" fill="none"/></g>
<circle cx="1832.4" cy="1928.3" r="35.4" fill="#0d1b33"/>
<path d="M1811.5,1910.4 H1829.8 V1918 H1819 V1926.7 H1828.5 V1933.3 H1819 V1942 H1833.5 V1949.6 H1811.5 Z" fill="#e8a23a"/>
<path d="M1830.4,1910.4 L1838.6,1910.4 L1841.6,1939 L1849.2,1910.4 L1857,1910.4 L1845.6,1949.6 L1835.6,1949.6 Z" fill="#e8a23a"/>
</svg></body></html>
